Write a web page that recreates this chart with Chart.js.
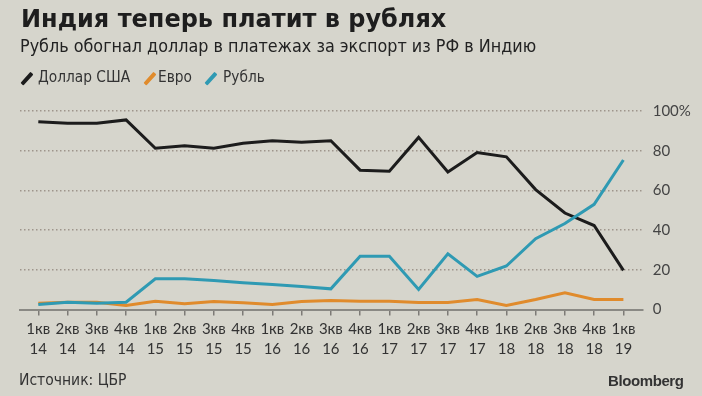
<!DOCTYPE html>
<html><head><meta charset="utf-8">
<script src="https://cdn.jsdelivr.net/npm/chart.js@4"></script>
<style>
html,body{margin:0;padding:0;background:#d6d5cc;}
#wrap{position:relative;width:702px;height:396px;background:#d6d5cc;overflow:hidden;font-family:"DejaVu Sans Condensed","DejaVu Sans",sans-serif;color:#222;}
canvas{position:absolute;left:0;top:0;}
.t{position:absolute;white-space:nowrap;}
#title{left:21px;top:5px;font-size:24px;font-weight:bold;color:#1e1e1e;font-family:"DejaVu Sans",sans-serif;}
#sub{left:20px;top:35px;font-size:17.8px;color:#222;}
#legend{left:0;top:68px;width:400px;height:22px;font-size:15.3px;color:#333;}
#legend span{position:absolute;top:0;}
#legend span.k{width:3.5px;height:15px;transform:rotate(42deg);top:3px;border-radius:1px;}
#src{left:19px;top:371px;font-size:15.5px;color:#333;}
#bb{left:608px;top:372px;font-size:15px;font-weight:bold;font-family:"Liberation Sans",sans-serif;color:#333;letter-spacing:-0.4px;}
</style></head>
<body><div id="wrap">
<canvas id="c" width="702" height="396"></canvas>
<div class="t" id="title">Индия теперь платит в рублях</div>
<div class="t" id="sub">Рубль обогнал доллар в платежах за экспорт из РФ в Индию</div>
<div class="t" id="legend"></div>
<div class="t" id="src">Источник: ЦБР</div>
<div class="t" id="bb">Bloomberg</div>
</div>
<script>
const quarterLabels = ['1кв','2кв','3кв','4кв','1кв','2кв','3кв','4кв','1кв','2кв','3кв','4кв','1кв','2кв','3кв','4кв','1кв','2кв','3кв','4кв','1кв'];
const yearLabels = ['14','14','14','14','15','15','15','15','16','16','16','16','17','17','17','17','18','18','18','18','19'];
const seriesNames = ['Доллар США','Евро','Рубль'];
const dollar = [94.6,93.8,93.8,95.5,81.2,82.5,81.2,83.7,85.0,84.3,85.0,70.2,69.7,86.7,69.3,79.1,76.9,60.4,48.6,42.3,19.7];
const euro = [3.2,3.7,3.7,2.0,4.2,2.9,4.0,3.4,2.5,4.0,4.5,4.2,4.2,3.5,3.5,5.0,2.0,5.0,8.4,5.0,5.0];
const ruble = [2.5,3.7,3.2,3.7,15.5,15.5,14.6,13.5,12.6,11.6,10.4,26.8,26.8,10.1,28.1,16.7,21.9,35.7,43.3,53.0,75.3];
const yTicks = [0,20,40,60,80,100];
const colors = ['#1c1c1c','#e08b2c','#2f9ab3'];

const allSeries = [dollar, euro, ruble];
const lg = document.getElementById('legend');
const keyX = [25, 148, 209];
const textX = [38, 158, 223];
seriesNames.forEach((n,i)=>{
  lg.insertAdjacentHTML('beforeend','<span class="k" style="left:'+keyX[i]+'px;background:'+colors[i]+'"></span><span style="left:'+textX[i]+'px">'+n+'</span>');
});

const datasets = allSeries.map((s,i)=>({
  label: seriesNames[i],
  data: s.map((v,j)=>({x:j,y:v})),
  borderColor: colors[i],
  borderWidth: 3,
  pointRadius: 0,
  tension: 0,
  fill: false
})).reverse();

new Chart(document.getElementById('c'), {
  type: 'line',
  data: { datasets },
  options: {
    responsive: false,
    animation: false,
    events: [],
    layout: { padding: { top: 111, left: 20, right: 0, bottom: 0 } },
    plugins: { legend: { display: false }, title: { display: false }, tooltip: { enabled: false } },
    scales: {
      x: {
        type: 'linear',
        min: -0.626,
        max: 20.66,
        afterBuildTicks: (s) => { s.ticks = quarterLabels.map((q,i)=>({value:i})); },
        afterFit: (s) => { s.height = 86.5; },
        grid: { drawOnChartArea: false, drawTicks: true, tickLength: 6, color: '#7d7b76', lineWidth: 1.5 },
        border: { display: true, color: '#8a8984', width: 2 },
        ticks: {
          autoSkip: false,
          maxRotation: 0,
          padding: 4,
          color: '#333',
          font: { family: 'Lato', size: 15, lineHeight: 1.3 },
          callback: (v) => [quarterLabels[v], yearLabels[v]]
        }
      },
      y: {
        position: 'right',
        min: 0,
        max: 100,
        afterBuildTicks: (s) => { s.ticks = yTicks.map(v=>({value:v})); },
        afterFit: (s) => { s.width = 59.3; },
        grid: { drawTicks: false, color: (c) => c.tick && c.tick.value === 0 ? 'rgba(0,0,0,0)' : '#9e958b', lineWidth: 1.5 },
        border: { display: false, dash: [1.5, 2.5] },
        ticks: {
          padding: 10,
          color: '#444',
          font: { family: 'Lato', size: 15 },
          callback: (v) => v === 100 ? '100%' : String(v)
        }
      }
    }
  }
});
</script>
</body></html>
